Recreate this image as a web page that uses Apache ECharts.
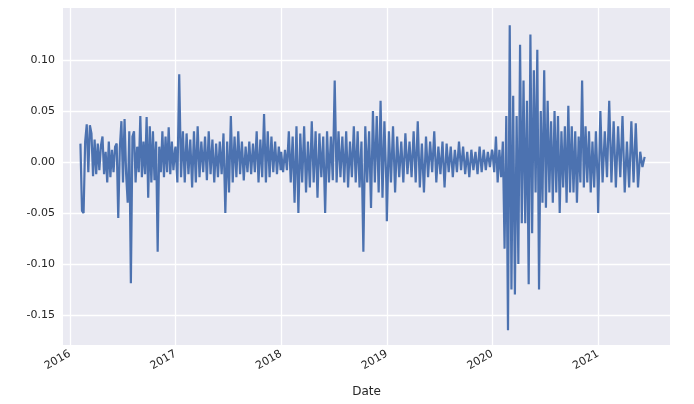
<!DOCTYPE html>
<html><head><meta charset="utf-8">
<script src="https://cdn.jsdelivr.net/npm/echarts@6/dist/echarts.min.js"></script>
<style>html,body{margin:0;padding:0;background:#fff}#c{width:694px;height:404px}</style>
</head><body><div id="c"></div>
<script>
// Daily returns, sampled roughly per trading half-week, grouped by year
const yearStarts = [2016.10, 2017.0, 2018.0, 2019.0, 2020.0, 2021.0];
const yearEnds   = [2016.995, 2017.995, 2018.995, 2019.995, 2020.995, 2021.44];
const returns2016 = [0.018,-0.048,-0.05,0.02,0.037,-0.01,0.036,0.028,-0.014,0.022,-0.012,0.018,-0.008,0.016,0.025,-0.012,0.01,-0.02,0.02,-0.015,0.012,-0.01,0.015,0.018,-0.055,0.014,0.04,-0.02,0.042,-0.012,-0.04,0.03,-0.119,0.025,0.03,-0.02,0.015,-0.01,0.045,-0.015,0.02,-0.012,0.044,-0.035,0.035,-0.02,0.03,-0.018,0.02,-0.088,0.015,-0.01,0.03,-0.015,0.025,-0.01,0.034,-0.012,0.02,-0.008,0.012];
const returns2017 = [0.015,-0.02,0.086,-0.015,0.03,-0.02,0.028,-0.012,0.022,-0.025,0.03,-0.02,0.035,-0.015,0.02,-0.01,0.025,-0.018,0.03,-0.012,0.022,-0.02,0.018,-0.015,0.02,-0.012,0.028,-0.05,0.02,-0.03,0.045,-0.02,0.025,-0.015,0.03,-0.012,0.02,-0.018,0.015,-0.01,0.02,-0.012,0.018,-0.01,0.03,-0.02,0.022,-0.015,0.047,-0.02,0.03,-0.015,0.025,-0.01,0.02,-0.012,0.015,-0.008];
const returns2018 = [0.01,-0.01,0.012,-0.008,0.03,-0.02,0.025,-0.04,0.035,-0.05,0.028,-0.02,0.035,-0.03,0.02,-0.025,0.04,-0.02,0.03,-0.035,0.028,-0.015,0.025,-0.05,0.03,-0.02,0.025,-0.018,0.08,-0.02,0.03,-0.015,0.025,-0.02,0.03,-0.025,0.02,-0.015,0.035,-0.02,0.03,-0.025,0.02,-0.088,0.035,-0.02,0.03,-0.045,0.05,-0.02,0.045,-0.03,0.06,-0.035,0.04,-0.02];
const returns2019 = [-0.058,0.03,-0.02,0.035,-0.03,0.025,-0.015,0.02,-0.02,0.028,-0.012,0.02,-0.015,0.03,-0.02,0.04,-0.025,0.018,-0.03,0.025,-0.015,0.02,-0.01,0.03,-0.02,0.015,-0.012,0.02,-0.025,0.018,-0.01,0.015,-0.015,0.012,-0.01,0.02,-0.008,0.015,-0.012,0.01,-0.015,0.012,-0.008,0.01,-0.012,0.015,-0.01,0.012,-0.008,0.01,-0.005,0.012];
const returns2020 = [0.01,-0.01,0.025,-0.02,0.012,-0.015,0.02,-0.085,0.045,-0.165,0.134,-0.125,0.065,-0.13,0.045,-0.1,0.115,-0.06,0.08,-0.06,0.06,-0.12,0.125,-0.07,0.09,-0.03,0.11,-0.125,0.05,-0.04,0.09,-0.045,0.06,-0.03,0.04,-0.04,0.05,-0.03,0.045,-0.05,0.03,-0.025,0.035,-0.04,0.055,-0.03,0.035,-0.03,0.03,-0.04,0.025,-0.02,0.08,-0.025,0.035,-0.02,0.03,-0.03,0.02,-0.025,0.03,-0.02];
const returns2021 = [-0.05,0.05,-0.02,0.03,-0.015,0.06,-0.02,0.04,-0.025,0.035,-0.015,0.045,-0.03,0.02,-0.025,0.04,-0.02,0.038,-0.025,0.01,-0.005,0.005];
const yearValues = [returns2016, returns2017, returns2018, returns2019, returns2020, returns2021];
const yearTicks = [2016, 2017, 2018, 2019, 2020, 2021];
const yTicks = [-0.15, -0.10, -0.05, 0.00, 0.05, 0.10];

const data = [];
yearValues.forEach((vals, i) => {
  const a = yearStarts[i], b = yearEnds[i];
  vals.forEach((v, j) => data.push([a + (b - a) * j / (vals.length - 1), v]));
});

const chart = echarts.init(document.getElementById('c'));
chart.setOption({
  animation: false,
  backgroundColor: '#fff',
  grid: {left: 63, right: 24, top: 8, bottom: 59, show: true, backgroundColor: '#EAEAF2', borderWidth: 0},
  xAxis: {
    type: 'value', min: 2015.935, max: 2021.68,
    name: 'Date', nameLocation: 'middle', nameGap: 41,
    nameTextStyle: {color: '#262626', fontSize: 12, fontFamily: 'DejaVu Sans'},
    axisLine: {show: false}, axisTick: {show: false, customValues: yearTicks},
    axisLabel: {customValues: yearTicks, rotate: 30, color: '#262626', fontSize: 11, fontFamily: 'DejaVu Sans', margin: 8, formatter: v => String(Math.round(v))},
    splitLine: {show: true, lineStyle: {color: '#fff', width: 1.3}}
  },
  yAxis: {
    type: 'value', min: -0.1795, max: 0.151,
    axisLine: {show: false}, axisTick: {show: false, customValues: yTicks},
    axisLabel: {customValues: yTicks, color: '#262626', fontSize: 11, fontFamily: 'DejaVu Sans', formatter: v => v.toFixed(2)},
    splitLine: {show: true, lineStyle: {color: '#fff', width: 1.3}}
  },
  series: [{type: 'line', data: data, showSymbol: false, lineStyle: {color: '#4C72B0', width: 2.2}}]
});
</script></body></html>
